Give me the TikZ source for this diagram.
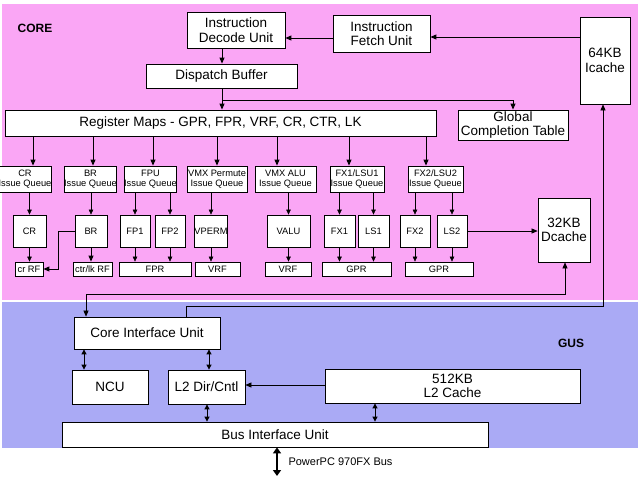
\documentclass[tikz,border=0pt]{standalone}
\usepackage{fontspec}
\setmainfont{Liberation Sans}
\usetikzlibrary{arrows.meta}
\definecolor{pinkbg}{RGB}{250,166,245}
\definecolor{bluebg}{RGB}{170,170,245}
\newcommand{\bx}[7][]{\node[box,#1,minimum width={(#5)-(#3)},minimum height={(#6)-(#4)}] (#2) at ({((#3)+(#5))/2},{((#4)+(#6))/2}) {#7};}
\begin{document}
\begin{tikzpicture}[x=1pt,y=-1pt,
  box/.style={draw,fill=white,line width=0.8pt,inner sep=0pt,align=center,font=\fontsize{13.5}{14.5}\selectfont},
  sm/.style={font=\fontsize{9.3}{10.5}\selectfont},
  a/.style={line width=0.9pt,-{Triangle[length=6pt,width=5pt]}},
  t/.style={line width=0.5pt,-{Triangle[length=5pt,width=4.5pt]}},
  d/.style={line width=0.9pt,{Triangle[length=5pt,width=5pt]}-{Triangle[length=5pt,width=5pt]}}]
\useasboundingbox (0,0) rectangle (640,479);
\fill[pinkbg] (2,4) rectangle (638,300);
\fill[bluebg] (2,302) rectangle (638,448);
\node[font=\bfseries\fontsize{12}{14}\selectfont] (core) at (35,28) {CORE};
\node[font=\bfseries\fontsize{12}{14}\selectfont] (gus) at (571,343) {GUS};
\bx{dec}{187}{12}{285}{48}{Instruction\\Decode Unit}
\bx{fet}{333}{15}{430}{52}{Instruction\\Fetch Unit}
\bx{ic}{580}{17}{630}{104}{64KB\\Icache}
\bx{disp}{146}{64}{297}{88}{Dispatch Buffer}
\bx{reg}{5}{110}{436}{136}{Register Maps - GPR, FPR, VRF, CR, CTR, LK}
\bx{gct}{458}{110}{568}{140}{Global\\Completion Table}
% queues
\bx[sm]{qcr}{5}{166}{45}{192}{CR\\Issue Queue}
\bx[sm]{qbr}{65}{166}{116}{192}{BR\\Issue Queue}
\bx[sm]{qfp}{125}{166}{176}{192}{FPU\\Issue Queue}
\bx[sm]{qvp}{187}{166}{247}{192}{VMX Permute\\Issue Queue}
\bx[sm]{qva}{255}{166}{316}{192}{VMX ALU\\Issue Queue}
\bx[sm]{qf1}{330}{166}{384}{192}{FX1/LSU1\\Issue Queue}
\bx[sm]{qf2}{408}{166}{463}{192}{FX2/LSU2\\Issue Queue}
% units
\bx[sm]{ucr}{13}{215}{46}{247}{CR}
\bx[sm]{ubr}{75}{215}{107}{247}{BR}
\bx[sm]{ufp1}{120}{215}{150}{247}{FP1}
\bx[sm]{ufp2}{155}{215}{185}{247}{FP2}
\bx[sm]{uvp}{195}{215}{227}{247}{VPERM}
\bx[sm]{uva}{267}{215}{310}{247}{VALU}
\bx[sm]{ufx1}{324}{215}{355}{247}{FX1}
\bx[sm]{uls1}{358}{215}{389}{247}{LS1}
\bx[sm]{ufx2}{400}{215}{430}{247}{FX2}
\bx[sm]{uls2}{437}{215}{467}{247}{LS2}
\bx{dc}{538}{198}{590}{262}{32KB\\Dcache}
% register files
\bx[sm]{rcr}{15}{262}{43}{276}{cr RF}
\bx[sm]{rbr}{73}{262}{112}{276}{ctr/lk RF}
\bx[sm]{rfp}{119}{262}{191}{276}{FPR}
\bx[sm]{rvp}{195}{262}{240}{276}{VRF}
\bx[sm]{rva}{265}{262}{311}{276}{VRF}
\bx[sm]{rg1}{322}{262}{391}{276}{GPR}
\bx[sm]{rg2}{405}{262}{473}{276}{GPR}
% GUS
\bx{ciu}{74}{317}{220}{349}{Core Interface Unit}
\bx{ncu}{72}{370}{148}{404}{NCU}
\bx{l2d}{168}{370}{245}{404}{L2 Dir/Cntl}
\bx{l2c}{325}{369}{580}{403}{512KB\\L2 Cache}
\bx{biu}{62}{422}{488}{447}{Bus Interface Unit}
\coordinate (busend) at (277,476);
\node[anchor=west,font=\fontsize{11}{12}\selectfont] (buslbl) at (285,462) {PowerPC 970FX Bus};
% top connectors
\draw[a] (ic.west|-0,37) -- (fet.east|-0,37);
\draw[a] (fet.west|-0,38) -- (dec.east|-0,38);
\draw[a] (dec.south-|222,0) -- (disp.north-|222,0);
\draw[a] (disp.south-|222,0) -- (reg.north-|222,0);
\draw[a] (222,100) -| (gct.north);
\foreach \q/\x in {qcr/33,qbr/93,qfp/153,qvp/217,qva/277,qf1/349,qf2/426}
  \draw[a] (reg.south-|\x,0) -- (\q.north-|\x,0);
% queue -> unit
\draw[t] (qcr.south-|ucr) -- (ucr.north);
\draw[t] (qbr.south-|ubr) -- (ubr.north);
\draw[t] (qfp.south-|ufp1) -- (ufp1.north);
\draw[t] (qfp.south-|ufp2) -- (ufp2.north);
\draw[t] (qvp.south-|uvp) -- (uvp.north);
\draw[t] (qva.south-|uva) -- (uva.north);
\draw[t] (qf1.south-|ufx1) -- (ufx1.north);
\draw[t] (qf1.south-|uls1) -- (uls1.north);
\draw[t] (qf2.south-|ufx2) -- (ufx2.north);
\draw[t] (qf2.south-|uls2) -- (uls2.north);
% unit -> RF
\draw[t] (ucr.south) -- (rcr.north-|ucr);
\draw[a] (ubr.south) -- (rbr.north-|ubr);
\draw[t] (ufp1.south) -- (rfp.north-|ufp1);
\draw[t] (ufp2.south) -- (rfp.north-|ufp2);
\draw[t] (uvp.south) -- (rvp.north-|uvp);
\draw[t] (uva.south) -- (rva.north-|uva);
\draw[t] (ufx1.south) -- (rg1.north-|ufx1);
\draw[t] (uls1.south) -- (rg1.north-|uls1);
\draw[t] (ufx2.south) -- (rg2.north-|ufx2);
\draw[t] (uls2.south) -- (rg2.north-|uls2);
\draw[a] (ubr.west) -- (58,231) |- (rcr.east);
\draw[a,line width=0.6pt] (uls2.east) -- (dc.west|-uls2.east);
% core <-> GUS
\draw[a,line width=0.6pt] (86,294) -| (dc.south-|565,0);
\draw[a,line width=0.6pt] (86,294) -- (ciu.north-|86,0);
\draw[a,line width=0.6pt] (ciu.north-|186,0) |- (603,306) -- (ic.south-|603,0);
% GUS connectors
\draw[d] (ciu.south-|84,0) -- (ncu.north-|84,0);
\draw[d] (ciu.south-|209,0) -- (l2d.north-|209,0);
\draw[d] (l2d.south-|207,0) -- (biu.north-|207,0);
\draw[d] (l2c.south-|375,0) -- (biu.north-|375,0);
\draw[a,line width=0.6pt] (l2c.west|-0,385) -- (l2d.east|-0,385);
\draw[line width=2pt,{Triangle[length=6pt,width=8pt]}-{Triangle[length=6pt,width=8pt]}] (biu.south-|busend) -- (busend);
\end{tikzpicture}
\end{document}
